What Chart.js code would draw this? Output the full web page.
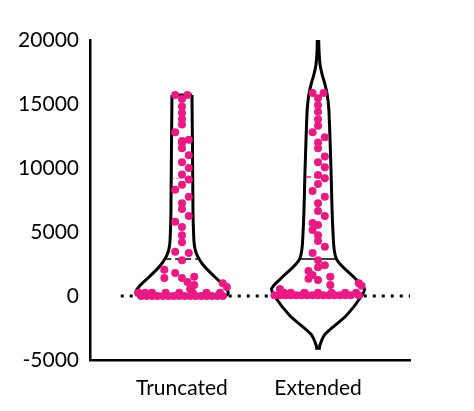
<!DOCTYPE html>
<html><head><meta charset="utf-8">
<script src="https://cdn.jsdelivr.net/npm/chart.js@4"></script>
<style>html,body{margin:0;background:#fff}#w{width:474px;height:411px}</style>
</head><body><div id="w"><canvas id="c"></canvas></div>
<script>
const categories = ["Truncated", "Extended"];
const yTicks = [-5000, 0, 5000, 10000, 15000, 20000];

const truncValues = [15700,15700,15400,14800,14300,13800,13400,12800,12100,12200,11950,11550,11000,10450,10000,9500,9100,8700,8300,7750,7250,6800,6250,5800,5400,4750,4200,3450,3350,2800,2050,1800,1400,1400,1100,1500,850,1000,700,550,
  250,250,250,250,250,250,250,250,0,0,0,0,0,0,0,0,0,0,0,0,0,0,0,0];
const truncOffsets = [-0.05,0.04,0,0,0,0,0,-0.05,0,0.05,0,0,0.05,0,0.05,0,0.05,0,-0.05,0.05,0,0,0.05,-0.05,0,0,0,-0.05,0.05,0,-0.13,-0.05,-0.13,0,0.04,0.09,0.09,0.3,0.33,0.06,
  -0.32,-0.22,-0.12,-0.02,0.08,0.18,0.28,-0.27,-0.3,-0.26,-0.22,-0.18,-0.14,-0.1,-0.06,-0.02,0.02,0.06,0.1,0.14,0.18,0.22,0.26,0.3];

const extValues = [15850,15850,15450,14900,14400,13800,13300,12800,12400,12000,11550,10900,10450,10050,9450,9200,8750,8200,7750,7250,6650,6250,5700,5550,5150,4750,4300,3850,3350,2800,2400,2250,1950,1650,1350,1500,1250,1000,800,850,550,250,
  250,250,250,250,250,250,50,50,50,50,50,50,50,50,50,50,50,50,50,50,50,50];
const extOffsets = [-0.04,0.04,0,0,0,0,0,-0.04,0.05,0,0,0.05,0,0.05,0,0.05,0,-0.04,0.05,0,0,0.05,-0.04,0,-0.04,0,0,0.05,-0.04,0,0.05,0,-0.07,-0.04,-0.07,0.09,0,0.3,0.32,0.09,-0.28,-0.2,
  -0.1,0,0.1,0.2,0.28,-0.25,-0.32,-0.28,-0.24,-0.2,-0.16,-0.12,-0.08,-0.04,0,0.04,0.08,0.12,0.16,0.2,0.24,0.3];

// violin outline: y levels and half-widths
const truncY = [0,300,800,1500,2500,3500,5000,8000,12000,15000,15700];
const truncW = [0.33,0.34,0.31,0.24,0.15,0.1,0.085,0.08,0.077,0.074,0.074];
const extY = [-4200,-3800,-3000,-1500,0,600,1500,2900,5000,10000,14500,15700,16500,17200,18000,19000,20000];
const extW = [0.008,0.015,0.05,0.21,0.32,0.34,0.26,0.135,0.11,0.095,0.08,0.068,0.052,0.033,0.016,0.008,0.005];

const truncMedian = 2900, truncQ3 = 9200;
const extMedian = 2900, extQ3 = 9300;

const pink = '#ea1a84';
function interpW(ys, ws, y){for(let i=0;i<ys.length-1;i++){if(y>=ys[i]&&y<=ys[i+1]){const t=(y-ys[i])/(ys[i+1]-ys[i]);return ws[i]+t*(ws[i+1]-ws[i]);}}return 0;}
function hline(cx, ys, ws, y, shrink){const w=interpW(ys,ws,y)*shrink;return [{x:cx-w,y},{x:cx+w,y}];}

const ds = [];
const line = (data, extra) => Object.assign({data, showLine:true, borderColor:'#000', borderWidth:3, pointRadius:0, order:2}, extra||{});
ds.push(line(truncY.map((y,i)=>({x:1+truncW[i],y})), {tension:0.4}));
ds.push(line(truncY.map((y,i)=>({x:1-truncW[i],y})), {tension:0.4}));
ds.push(line([{x:1-truncW[truncW.length-1],y:15700},{x:1+truncW[truncW.length-1],y:15700}]));
ds.push(line([{x:1-truncW[0],y:0},{x:1+truncW[0],y:0}]));
ds.push(line(extY.map((y,i)=>({x:2+extW[i],y})), {tension:0.3}));
ds.push(line(extY.map((y,i)=>({x:2-extW[i],y})), {tension:0.3}));
ds.push(line([{x:0.55,y:0},{x:2.68,y:0}], {borderDash:[3,6], order:3}));
ds.push(line(hline(1,truncY,truncW,truncMedian,0.95), {borderWidth:1.5, borderDash:[6,4], order:1}));
ds.push(line(hline(1,truncY,truncW,truncQ3,0.9), {borderColor:'#c06080', borderWidth:1, borderDash:[2,2], order:1}));
ds.push(line(hline(2,extY,extW,extMedian,0.95), {borderWidth:1.5, order:1}));
ds.push(line(hline(2,extY,extW,extQ3,0.9), {borderColor:pink, borderWidth:1.5, borderDash:[5,3], order:1}));
ds.push({data: truncValues.map((v,i)=>({x:1+truncOffsets[i], y:v})), pointRadius:4, pointBackgroundColor:pink, pointBorderWidth:0, showLine:false, order:0});
ds.push({data: extValues.map((v,i)=>({x:2+extOffsets[i], y:v})), pointRadius:4, pointBackgroundColor:pink, pointBorderWidth:0, showLine:false, order:0});

const font = {family:'Lato', size:21};
new Chart(document.getElementById('c'), {
  type:'scatter',
  data:{datasets:ds},
  options:{
    responsive:true, maintainAspectRatio:false, animation:false,
    layout:{padding:{top:40,right:64,left:0,bottom:0}},
    plugins:{legend:{display:false}, tooltip:{enabled:false}},
    scales:{
      x:{type:'linear', min:0.324, max:2.676,
        afterBuildTicks:(s)=>{s.ticks=[{value:1},{value:2}];},
        afterFit:(s)=>{s.height=51;},
        ticks:{color:'#000', font, padding:8, callback:(v)=>categories[Math.round(v)-1]||''},
        grid:{display:false, drawTicks:true, tickLength:8, tickColor:'#000'},
        border:{color:'#000', width:2.5}},
      y:{min:-5000, max:20000,
        afterBuildTicks:(s)=>{s.ticks=yTicks.map(v=>({value:v}));},
        afterFit:(s)=>{s.width=90;},
        ticks:{color:'#000', font, padding:3, callback:(v)=>String(v)},
        grid:{display:false, drawTicks:true, tickLength:8, tickColor:'#000'},
        border:{color:'#000', width:2.5}}
    }
  }
});
</script></body></html>
